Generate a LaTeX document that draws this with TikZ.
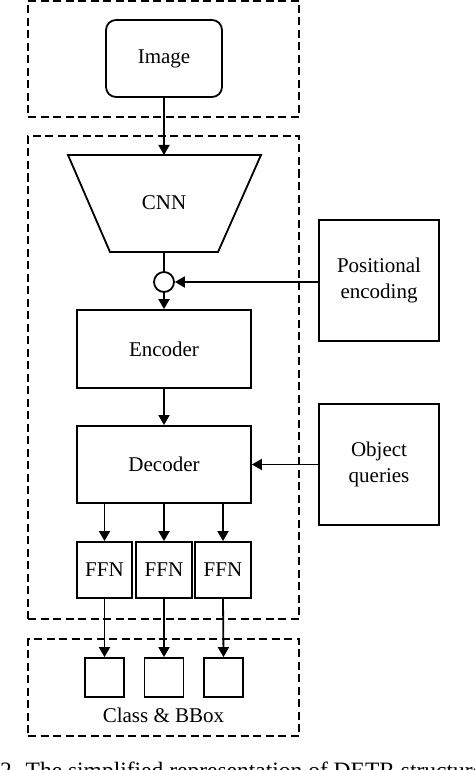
\documentclass[tikz,border=0pt]{standalone}
\usepackage{fontspec}
\setmainfont{Liberation Serif}
\usetikzlibrary{arrows.meta}
\begin{document}
\begin{tikzpicture}[x=1pt,y=-1pt,
  lbl/.style={font=\fontsize{21}{26}\selectfont, align=center},
  box/.style={draw, line width=1.8pt, inner sep=0pt, lbl},
  dbox/.style={draw, line width=1.8pt, dash pattern=on 8pt off 4.5pt, inner sep=0pt},
  conn/.style={line width=1.8pt},
  arr/.style={conn, -{Triangle[length=10pt,width=11pt]}}]
\useasboundingbox (0,0) rectangle (474,770);
% dashed groups
\node[dbox, minimum width=271pt, minimum height=116pt] (g1) at (163.5,59) {};
\node[dbox, minimum width=271pt, minimum height=483pt] (g2) at (163.5,377.5) {};
\node[dbox, minimum width=271pt, minimum height=97pt] (g3) at (163.5,687.5) {};
% nodes
\node[box, rounded corners=10pt, minimum width=116pt, minimum height=77pt] (img) at (164,58.5) {Image};
\coordinate (cnntl) at (68,155);
\coordinate (cnntr) at (261,155);
\coordinate (cnnbr) at (218,252);
\coordinate (cnnbl) at (110,252);
\draw[conn, line join=miter] (cnntl) -- (cnntr) -- (cnnbr) -- (cnnbl) -- cycle;
\node[lbl] (cnn) at (164,203) {CNN};
\coordinate (cnntop) at (164,155);
\coordinate (cnnbot) at (164,252);
\node[draw, circle, line width=1.8pt, minimum size=20pt, inner sep=0pt] (circ) at (164,282) {};
\node[box, minimum width=174pt, minimum height=78pt] (enc) at (164,349) {Encoder};
\node[box, minimum width=120pt, minimum height=121pt] (pos) at (379,280.5) {Positional\\encoding};
\node[box, minimum width=174pt, minimum height=77pt] (dec) at (164,464.5) {Decoder};
\node[box, minimum width=120pt, minimum height=121pt] (obj) at (379,464.5) {Object\\queries};
\node[box, minimum width=55pt, minimum height=56pt] (ffn1) at (104.5,570) {FFN};
\node[box, minimum width=56pt, minimum height=56pt] (ffn2) at (164,570) {FFN};
\node[box, minimum width=56pt, minimum height=56pt] (ffn3) at (223,570) {FFN};
\node[box, minimum width=39pt, minimum height=39pt] (out1) at (104.5,677.5) {};
\node[box, minimum width=39pt, minimum height=39pt] (out2) at (164,677.5) {};
\node[box, minimum width=39pt, minimum height=39pt] (out3) at (223.5,677.5) {};
\node[lbl] (cls) at (163.5,715) {Class \& BBox};
\node[anchor=base west, inner sep=0pt, font=\fontsize{23.5}{28}\selectfont] (cap) at (0,778) {2. The simplified representation of DETR structure};
% connectors
\draw[arr] (img.south) -- (cnntop);
\draw[conn] (cnnbot) -- (circ.north);
\draw[arr] (circ.south) -- (enc.north);
\draw[arr] (circ.east -| pos.west) -- (circ.east);
\draw[arr] (enc.south) -- (dec.north);
\draw[arr] (dec.east -| obj.west) -- (dec.east);
\draw[arr] (ffn1.north |- dec.south) -- (ffn1.north);
\draw[arr] (ffn2.north |- dec.south) -- (ffn2.north);
\draw[arr] (ffn3.north |- dec.south) -- (ffn3.north);
\draw[arr] (ffn1.south) -- (out1.north);
\draw[arr] (ffn2.south) -- (out2.north);
\draw[arr] (ffn3.south) -- (out3.north);
\end{tikzpicture}
\end{document}
